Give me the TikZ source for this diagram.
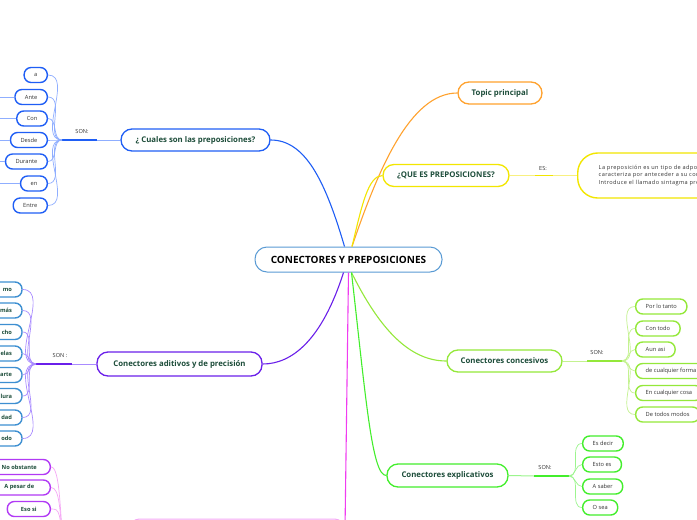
\documentclass[tikz,border=0pt]{standalone}
\usepackage{fontspec}
\setmainfont{Open Sans}
\definecolor{txtg}{HTML}{1D4D3A}
\definecolor{txtd}{HTML}{333333}
\definecolor{cmain}{HTML}{5A9BD4}
\definecolor{cblue}{HTML}{1F5EF5}
\definecolor{cbluel}{HTML}{8FAEFF}
\definecolor{cpur}{HTML}{6A1FEA}
\definecolor{cpurl}{HTML}{A98BFF}
\definecolor{csteel}{HTML}{3D8FD1}
\definecolor{cmag}{HTML}{F03CF0}
\definecolor{cmagl}{HTML}{F5A8F5}
\definecolor{cmagb}{HTML}{B13AF5}
\definecolor{corange}{HTML}{FFA22E}
\definecolor{cyel}{HTML}{F2E600}
\definecolor{cyell}{HTML}{F8F080}
\definecolor{clg}{HTML}{94E83A}
\definecolor{clgl}{HTML}{C4F290}
\definecolor{cgr}{HTML}{43EE2C}
\definecolor{cgrl}{HTML}{9CF58E}
\tikzset{
  mainbox/.style={draw=cmain, line width=1pt, rounded corners=12pt, fill=white,
    minimum width=187pt, minimum height=25pt, inner sep=0pt, text=black,
    font=\fontsize{10}{12}\selectfont\bfseries},
  branch/.style={line width=1.3pt, rounded corners=11pt, fill=white,
    minimum height=22pt, inner xsep=12pt, inner ysep=0pt, text=txtg,
    font=\fontsize{7.8}{9}\selectfont\bfseries},
  kid/.style={line width=1.4pt, rounded corners=7pt, fill=white,
    minimum height=15pt, inner xsep=10pt, inner ysep=0pt, text=txtd,
    font=\fontsize{5.7}{7}\selectfont},
  kidb/.style={kid, text=txtg, font=\fontsize{5.7}{7}\selectfont\bfseries},
  lbl/.style={font=\fontsize{5.6}{7}\selectfont, text=txtd, inner sep=0pt},
  conn/.style={line width=1.1pt},
  thin/.style={line width=0.7pt},
  hubline/.style={line width=1.6pt},
}
\begin{document}
\begin{tikzpicture}[x=1pt,y=-1pt]
\useasboundingbox (0,0) rectangle (697,520);
\clip (0,0) rectangle (697,520);
\fill[white] (0,0) rectangle (697,520);

% central
\node[mainbox] (c) at (348.5,259.5) {CONECTORES Y PREPOSICIONES};

% branch nodes
\node[branch, draw=cblue, minimum width=149pt] (cual) at (195.5,140) {¿ Cuales son las preposiciones?};
\node[branch, draw=corange, minimum width=84pt] (topic) at (500,93) {Topic principal};
\node[branch, draw=cyel, minimum width=126pt] (que) at (446,175.5) {¿QUE ES PREPOSICIONES?};
\node[branch, draw=cpur, minimum width=165pt, minimum height=24pt] (adit) at (179.5,364) {Conectores aditivos y de precisión};
\node[branch, draw=clg, minimum width=115pt] (conc) at (504.5,361) {Conectores concesivos};
\node[branch, draw=cgr, minimum width=121pt, minimum height=23pt] (expl) at (447.5,475.5) {Conectores explicativos};
\node[draw=cmagl, line width=1pt, rounded corners=10pt, minimum width=215pt, minimum height=50pt] (bot) at (237,544) {};

% description
\node[draw=cyel, line width=1.4pt, rounded corners=20pt, fill=white, anchor=west,
  minimum height=45pt, text width=170pt, inner xsep=21pt, inner ysep=0pt, align=left,
  font=\fontsize{5.6}{7.5}\selectfont\addfontfeature{LetterSpace=7}, text=txtd] (desc) at (577,175.5)
  {La preposición es un tipo de adposición\\caracteriza por anteceder a su complemento\\Introduce el llamado sintagma preposicional};

% main connectors
\draw[conn, cblue] ([xshift=-4pt]c.north) .. controls (325,180) and (305,140) .. (cual.east);
\draw[conn, corange] ([xshift=3.5pt]c.north) .. controls (378,170) and (410,93) .. (topic.west);
\draw[conn, cyel] ([xshift=3.5pt]c.north) .. controls (362,205) and (368,176) .. (que.west);
\draw[conn, cpur] ([xshift=-5pt]c.south) .. controls (322,340) and (292,364) .. (adit.east);
\draw[conn, clg] ([xshift=3pt]c.south) .. controls (380,330) and (410,361) .. (conc.west);
\draw[conn, cgr] ([xshift=3pt]c.south) .. controls (366,400) and (372,476) .. (expl.west);
\coordinate (mend) at (345,530);
\draw[conn, cmag] ([xshift=0pt]c.south) -- (mend);

% ---- blue children
\coordinate (bh) at (62,140);
\coordinate (bs) at (97,140);
\draw[hubline, cblue] (bh) -- (bs);
\draw[thin, cbluel, line width=1pt] (bs) -- (cual.west);
\node[lbl] at (82,132) {SON:};
\foreach \n/\t/\y in {b1/a/75, b2/Ante/97, b3/Con/118.5, b4/Desde/140, b5/Durante/161.5, b6/en/183.5, b7/Entre/205.5}{
  \node[kid, draw=cblue, anchor=east] (\n) at (48,\y) {\t};
  \draw[thin, cbluel] (bh) to[out=180,in=0] (\n.east);
}
\foreach \n in {b2,b3,b4,b5,b6}{
  \draw[thin, cbluel, line width=1pt] (\n.west) -- ++(-60,0);
}

% ---- purple children
\coordinate (ph) at (36,364);
\coordinate (ps) at (72,364);
\draw[hubline, cpur] (ph) -- (ps);
\draw[thin, cpurl, line width=1pt] (ps) -- (adit.west);
\node[lbl] at (60,356) {SON :};
\foreach \n/\t/\y in {p1/mo/289.5, p2/más/310.5, p3/cho/332, p4/elas/353.5, p5/arte/375, p6/lura/396, p7/dad/417.5, p8/odo/438.5}{
  \node[kidb, draw=csteel, anchor=east, text width=40pt, align=right] (\n) at (22.7,\y) {\t};
  \draw[thin, cpurl] (ph) to[out=180,in=0] (\n.east);
}

% ---- magenta children
\coordinate (mh) at (64,560);
\foreach \n/\t/\y/\w in {m1/No obstante/467/62, m2/A pesar de/487.5/62, m3/Eso si/509/43}{
  \node[kidb, draw=cmagb, anchor=east, minimum width=\w pt] (\n) at (51,\y) {\t};
  \draw[thin, cmagl] (mh) .. controls (60,510) and (60,\y) .. (\n.east);
}

% ---- yellow ES
\coordinate (ys1) at (535,175.5);
\coordinate (ys2) at (553,175.5);
\draw[thin, cyell, line width=1pt] (que.east) -- (ys1);
\draw[hubline, cyel] (ys1) -- (ys2);
\draw[thin, cyell, line width=1pt] (ys2) -- (desc.west);
\node[lbl] at (543,169) {ES:};

% ---- light green children
\coordinate (lh) at (622,361);
\coordinate (ls) at (587,361);
\draw[thin, clgl, line width=1pt] (conc.east) -- (ls);
\draw[hubline, clg] (ls) -- (lh);
\node[lbl] at (597,353) {SON:};
\foreach \n/\t/\y in {l1/Por lo tanto/306.5, l2/Con todo/328.5, l3/Aun asi/349.5, l4/de cualquier forma/371, l5/En cualquier cosa/393, l6/De todos modos/414.5}{
  \node[kid, draw=clg, anchor=west] (\n) at (635,\y) {\t};
  \draw[thin, clgl] (lh) to[out=0,in=180] (\n.west);
}

% ---- green children
\coordinate (gh) at (569,476);
\coordinate (gs) at (534,476);
\draw[thin, cgrl, line width=1pt] (expl.east) -- (gs);
\draw[hubline, cgr] (gs) -- (gh);
\node[lbl] at (545,468) {SON:};
\foreach \n/\t/\y in {g1/Es decir/443.5, g2/Esto es/464.5, g3/A saber/486.5, g4/O sea/507.5}{
  \node[kid, draw=cgr, anchor=west] (\n) at (582,\y) {\t};
  \draw[thin, cgrl] (gh) to[out=0,in=180] (\n.west);
}
\end{tikzpicture}
\end{document}
